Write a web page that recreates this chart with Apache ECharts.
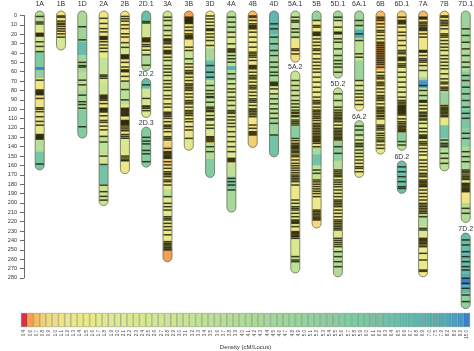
<!DOCTYPE html>
<html>
<head>
<meta charset="UTF-8">
<title>Wheat map marker density</title>
<script src="https://cdn.jsdelivr.net/npm/echarts@6/dist/echarts.min.js"></script>
</head>
<body style="margin:0;background:#fff">
<div id="map" style="width:474px;height:351px"></div>
<script>
var chromNames = ['1A','1B','1D','2A','2B','2D','3A','3B','3D','4A','4B','4D','5A','5B','5D','6A','6B','6D','7A','7B','7D'];

// [chromosome index, label, start cM, end cM]
var segments = [
  [0,'1A',0,160],[1,'1B',0,32],[2,'1D',0,126],[3,'2A',0,198],[4,'2B',0,164],
  [5,'2D.1',0,54],[5,'2D.2',72,104],[5,'2D.3',124,157],
  [6,'3A',0,258],[7,'3B',0,139],[8,'3D',0,168],[9,'4A',0,205],[10,'4B',0,136],[11,'4D',0,146],
  [12,'5A.1',0,45],[12,'5A.2',64,270],[13,'5B',0,222],[14,'5D.1',0,62],[14,'5D.2',82,274],
  [15,'6A.1',0,97],[15,'6A.2',117,168],[16,'6B',0,143],[17,'6D.1',0,139],[17,'6D.2',160,185],
  [18,'7A',0,274],[19,'7B',0,161],[20,'7D.1',0,216],[20,'7D.2',237,308]
];

// [segment, from cM, to cM, density cM/locus]
var bands = [
  ['1A',0,8,3.8],['1A',8,17,2.2],['1A',17,23,1.2],['1A',23,38,2.6],['1A',38,55,5.8],['1A',55,58,15],['1A',58,67,5.2],['1A',67,78,1.3],['1A',78,87,0.9],['1A',87,98,1.1],['1A',98,112,1.6],['1A',112,127,2.0],['1A',127,133,1.0],['1A',133,145,3.8],['1A',145,160,6.0],
  ['1B',0,20,1.0],['1B',20,32,2.4],
  ['1D',0,10,4.2],['1D',10,28,4.8],['1D',28,42,6.6],['1D',42,60,4.6],['1D',60,80,3.8],['1D',80,100,4.5],['1D',100,126,5.6],
  ['2A',0,20,1.4],['2A',20,30,1.0],['2A',30,45,1.6],['2A',45,62,3.2],['2A',62,70,2.4],['2A',70,84,3.0],['2A',84,105,1.2],['2A',105,128,1.6],['2A',128,148,3.4],['2A',148,160,2.8],['2A',160,180,6.2],['2A',180,198,3.0],
  ['2B',0,30,1.1],['2B',30,42,2.6],['2B',42,70,1.2],['2B',70,95,3.6],['2B',95,125,1.0],['2B',125,150,2.2],['2B',150,164,1.4],
  ['2D.1',0,6,6.5],['2D.1',6,22,2.8],['2D.1',22,30,1.0],['2D.1',30,40,1.8],['2D.1',40,54,4.2],
  ['2D.2',72,78,6.6],['2D.2',78,94,2.6],['2D.2',94,104,2.2],
  ['2D.3',124,157,5.6],
  ['3A',0,20,3.0],['3A',20,45,1.4],['3A',45,70,2.4],['3A',70,100,1.8],['3A',100,135,1.2],['3A',135,160,0.8],['3A',160,185,1.3],['3A',185,195,3.6],['3A',195,215,2.0],['3A',215,240,1.6],['3A',240,250,1.0],['3A',250,258,0.6],
  ['3B',0,6,0.6],['3B',6,30,1.0],['3B',30,37,1.4],['3B',37,52,3.2],['3B',52,80,1.2],['3B',80,100,1.5],['3B',100,125,1.3],['3B',125,139,1.9],
  ['3D',0,20,1.6],['3D',20,35,2.2],['3D',35,48,4.4],['3D',48,69,6.6],['3D',69,100,3.8],['3D',100,128,2.4],['3D',128,136,1.2],['3D',136,153,4.0],['3D',153,168,5.6],
  ['4A',0,20,3.8],['4A',20,35,2.4],['4A',35,40,1.4],['4A',40,54,3.6],['4A',54,58,7.5],['4A',58,70,4.2],['4A',70,100,2.6],['4A',100,150,2.2],['4A',150,158,1.4],['4A',158,172,3.4],['4A',172,185,6.0],['4A',185,205,4.4],
  ['4B',0,5,0.7],['4B',5,20,1.1],['4B',20,50,1.3],['4B',50,60,1.0],['4B',60,80,1.4],['4B',80,100,1.7],['4B',100,128,1.2],['4B',128,136,0.8],
  ['4D',0,20,6.8],['4D',20,40,5.8],['4D',40,70,4.6],['4D',70,85,2.6],['4D',85,110,3.8],['4D',110,128,4.8],['4D',128,146,6.2],
  ['5A.1',0,25,3.4],['5A.1',25,40,1.2],['5A.1',40,45,0.9],
  ['5A.2',64,100,3.0],['5A.2',100,118,2.2],['5A.2',118,130,5.4],['5A.2',130,175,1.0],['5A.2',175,195,1.4],['5A.2',195,228,1.8],['5A.2',228,237,1.0],['5A.2',237,255,2.2],['5A.2',255,270,3.4],
  ['5B',0,5,5.0],['5B',5,40,1.3],['5B',40,100,1.6],['5B',100,140,1.1],['5B',140,148,4.2],['5B',148,160,6.2],['5B',160,175,3.4],['5B',175,195,1.2],['5B',195,207,1.5],['5B',207,222,0.9],
  ['5D.1',0,4,4.6],['5D.1',4,22,2.4],['5D.1',22,40,3.4],['5D.1',40,62,3.9],
  ['5D.2',82,100,3.4],['5D.2',100,112,1.4],['5D.2',112,122,1.8],['5D.2',122,134,1.0],['5D.2',134,155,5.2],['5D.2',155,165,3.8],['5D.2',165,205,1.8],['5D.2',205,230,1.5],['5D.2',230,250,2.2],['5D.2',250,274,4.0],
  ['6A.1',0,15,4.6],['6A.1',15,24,7.5],['6A.1',24,40,3.6],['6A.1',40,48,3.0],['6A.1',48,70,4.8],['6A.1',70,85,2.6],['6A.1',85,97,1.6],
  ['6A.2',117,130,4.2],['6A.2',130,150,2.4],['6A.2',150,168,1.5],
  ['6B',0,10,0.7],['6B',10,30,1.0],['6B',30,58,0.6],['6B',58,85,1.2],['6B',85,110,1.1],['6B',110,125,1.4],['6B',125,135,2.4],['6B',135,143,1.4],
  ['6D.1',0,5,0.8],['6D.1',5,30,1.2],['6D.1',30,60,1.4],['6D.1',60,90,2.0],['6D.1',90,110,1.0],['6D.1',110,125,1.3],['6D.1',125,134,5.4],['6D.1',134,139,3.8],
  ['6D.2',160,185,6.4],
  ['7A',0,5,0.7],['7A',5,20,1.0],['7A',20,36,1.3],['7A',36,55,1.6],['7A',55,66,2.4],['7A',66,69,4.5],['7A',69,77,9.2],['7A',77,90,3.6],['7A',90,125,1.8],['7A',125,175,1.6],['7A',175,212,1.2],['7A',212,225,4.0],['7A',225,235,2.4],['7A',235,245,1.0],['7A',245,270,1.6],['7A',270,274,1.2],
  ['7B',0,5,0.9],['7B',5,30,1.2],['7B',30,70,2.0],['7B',70,82,1.5],['7B',82,95,5.0],['7B',95,110,1.1],['7B',110,117,1.8],['7B',117,131,6.2],['7B',131,145,4.4],['7B',145,161,3.6],
  ['7D.1',0,30,4.8],['7D.1',30,60,4.2],['7D.1',60,100,5.4],['7D.1',100,120,6.0],['7D.1',120,140,5.4],['7D.1',140,165,4.2],['7D.1',165,178,1.8],['7D.1',178,189,0.9],['7D.1',189,200,1.1],['7D.1',200,216,4.0],
  ['7D.2',237,275,6.6],['7D.2',275,280,7.8],['7D.2',280,288,15],['7D.2',288,296,6.8],['7D.2',296,308,5.2]
];

// locus positions (cM) on each segment
var loci = [
  ['1A',[1,7,9,19,20,21,22,28,33,38.5,69,79.5,80.5,81.5,82.5,83.5,84.5,88.5,98.5,100,102.6,108,113,117,127,128,129,130,131,132,158.5]],
  ['1B',[0.5,1.8,6,8.2,9.6,11.7,14.2,16.7,19.6,23.1]],
  ['1D',[12,26,50,53.5,55,69,74,85,92,95,99,118.7]],
  ['2A',[3,8.5,14,17.5,22.5,23.5,24.5,25.5,28,31.5,35,38.5,63.5,65,67,85,86,87,88,89,90.5,94,99,100,101,102,103,107,112,114,118,122,129,135,150,159,181,188,193,197]],
  ['2B',[1,3.5,6,10,14,19.5,23,29,34,42,43,44,45,46,50,55,58,59,60,65,70,79,90,99,100,101,102,103,104,105,106,107,112,113,114,115,116,117,119,121,123,127,129,131,150,152,154,155]],
  ['2D.1',[6.5,8,24,25,26,27,28,31,33,37,42,53]],
  ['2D.2',[74,88.5,96.5,97.5,99,101.5]],
  ['2D.3',[130,134,137,144,147.6,156]],
  ['3A',[1.8,5.3,10.7,16,21.3,25,26,27,28.5,30.2,33.8,37.3,38.5,39.7,40.9,44.5,48,53.4,56.9,60.5,64,69.4,72.9,76.5,80,85.4,88.9,94.3,97.8,103.2,104.5,106,107.5,109.7,113.3,117,118.5,120.4,124,129.3,131,132.9,141.8,145.3,146.5,147.7,149,150.2,151.4,152.4,156,159.5,163.1,166.7,168.5,170,172,175.5,177.3,180.9,193.3,200.4,204,207.6,214.7,216.5,218.2,221.8,225.3,229,234,241.3,243,244.5,246,247.5,249,250.2]],
  ['3B',[1.8,2.8,3.8,4.8,5.5,6.5,7.5,8.5,12.4,16,19.6,21.3,22.5,23.7,24.9,33.8,37.3,46.2,51.6,55.1,58.7,60.5,62.2,65.8,69.4,72.9,74.5,76.5,78.3,80,83.6,87.1,90.7,92.5,94.3,97.8,101.4,103,104.8,106.7,110.3,113.3,118.6,122.2,131.1]],
  ['3D',[0.5,3.6,7.1,10.7,14.2,15.5,16,19.6,23.1,26.7,32,53.4,60.5,65.8,74.7,80,83.6,86.5,87.5,92.5,97.8,99.5,101.4,102.6,106.7,110.3,111.5,116.9,120.4,129.3,130.5,131.8,133,134.6,140,145.3]],
  ['4A',[1.8,7.1,12.4,17.8,23.1,30.2,35.6,36.8,38,39.1,42.7,46.2,49.8,62.2,67.6,72.9,78.3,81.8,87.1,90.7,96,101.4,103,104.4,108,111.5,115.1,118.6,124,129.3,134.6,140,145.3,152.4,153.6,154.8,156,173.8,177.3,180.9,186.2]],
  ['4B',[0.5,1.8,5.3,8.9,10.7,11.8,13,14.2,17.8,23.1,28.5,33.8,39.1,40.9,42.7,44.5,48,53.4,54.5,55.7,56.9,60.5,64,65.8,67.6,71.1,74.7,76.5,78.3,81.8,85.4,88.9,90.7,92.5,96,99.6,100.9,102.5,104.2,106,108,116.9,120.4,124,125.2,126.4,127.5]],
  ['4D',[8.9,14.2,23.1,30.2,37.3,42.7,49.8,55.1,60.5,64,71.1,72.3,73.5,74.7,78.3,83.6,88.9,94.3,99.6,104.4,109.7,115.1,127.5]],
  ['5A.1',[1.8,5.3,7.1,14.2,17.8,23.1,35.6,37.3,41]],
  ['5A.2',[69.4,74.7,80,85.4,90.7,94.3,97.8,101,103.2,104.4,106.7,108,111.5,113.3,115,116.9,131.1,133.5,136.4,138.2,139.4,140.6,141.8,143.5,145,146.5,148.9,150.6,154.2,157.8,160.3,162.8,165.3,167.8,170.3,172,173.8,175.5,177.3,180.9,196.9,200.4,204,205.8,207.6,211.1,214.7,218.2,219.4,220.6,221.8,225.3,230.6,231.8,233,234.2,235.4,236,237.8,257.3,260.9,262.7]],
  ['5B',[5.3,10.7,12.4,17.8,19,20.2,21.3,24.9,28.5,32,35.6,37.3,40.9,46.2,49.8,53.4,56.9,60.5,65.8,71.1,76.5,81.8,87.1,90.7,92.5,94.3,97.8,100.9,102.5,104.2,106,108,109.7,112,115.1,116.9,118.6,120.4,122.2,124,125.8,127.5,129.3,130.6,131.9,133.2,134.6,136.4,140,164.9,168.4,175.5,177.5,180,182.5,185,187.5,190,193.3,207.6,209.2,210.8,212.4,214,215.6,217,218.2]],
  ['5D.1',[1.8,5.3,12.4,17.8,18.7,19.6,24.9,28.5,35.6,42.7,48,51.6,55.1,60.5]],
  ['5D.2',[83.6,90.7,97.8,100.9,103.2,105,106.7,108.5,110,111.5,113.3,117,120.4,122.2,123.8,125.4,127,128.6,130.2,131.6,132.9,140,147.1,164.9,166.8,168.6,170.4,172,175.5,177.8,180.2,182.7,186.2,189.8,193.3,196.9,198.6,200.4,202.2,204,207.6,211.1,214.7,218.2,220,221.8,223.6,225.4,227.2,228.9,237.8,240,242.2,244.4,246.7,252,257.3,262.7,268]],
  ['6A.1',[5.3,10.7,19.6,26.7,40.9,44.5,69.4,74.7,80,83.6,87.1,90.7,95]],
  ['6A.2',[118,122.2,127.5,132.9,136.4,138.2,140,143.5,147.1,150.6,154.2,157.8,161.3,163.1,166.7]],
  ['6B',[1.8,3.6,5.3,8.9,12.4,16,17.8,21.3,24.9,28.5,30.2,32.2,34.2,36.2,38.2,40.2,42.2,44.2,46.2,48.2,50.2,52.2,55.1,60.5,64,65.8,67.6,71.1,72.9,74.7,78.3,81.8,85.4,87.1,88.9,90.7,94.3,97.8,99.6,101.4,102.8,104.5,106.7,108,110.3,116.9,118.6,120.4,122.2,125.7,128,130.5,132.9,134.6,138.2,141.8]],
  ['6D.1',[1.8,5.3,6.5,7.7,8.9,12.4,17.8,21.3,26.7,32,37.3,39.1,40.9,44.5,45.7,46.9,48,51.6,53.4,55.1,60.5,65.8,71.1,76.5,81.8,87.1,90.7,92.5,94.3,96,97.1,98.2,99.3,100.4,101.4,102.6,103.8,104.9,106.2,110.3,113.3,115.1,116.9,118.6,120,121.4,122.8,124,134.6,138.2]],
  ['6D.2',[161.5,166.7,172,177.3,182.7,184.5]],
  ['7A',[1.8,2.7,3.6,7.1,8.9,10.7,12.4,13.6,14.8,16,19.6,23.1,37.3,38.2,39.1,42.7,46.2,48,49.8,53.4,58.7,74.7,80,85.4,90.7,91.6,92.5,96,99.6,103.2,104.9,106.7,108,110.3,111.5,115.1,120.4,124,127.5,128.7,129.9,131.1,134.6,136.4,138.2,141.8,145.3,148.9,154.2,157.8,161.3,164.9,168.4,170.2,172,175.5,177,178.5,180,181.5,182.7,186.2,189.8,193.3,196.9,200.4,202.2,204,205.8,207.6,209.4,211.1,214.7,227.1,228.9,237.8,239.1,240.4,241.8,243.1,244.9,246.7,253.8,260.9,271.6,273]],
  ['7B',[0.5,1.8,5.3,7.1,8.9,10.7,14.2,19.6,21.3,23.1,26.7,30.2,33.8,37.3,42.7,46.2,49.8,53.4,56.9,62.2,67.6,71.1,72.9,76.5,78.2,80,96,97.8,99.2,100.6,102,103.4,104.9,106.5,108,132.9,136.4,138.2,140,147.1,152.4,157.8]],
  ['7D.1',[14.2,21.3,28.5,35.6,42.7,49.8,55.1,64,69.4,76.5,83.6,90.7,97.8,104.4,109.7,125.7,131.1,145.3,150.6,156,164.9,166.5,168,170.2,172,173.5,175,179.1,180.4,181.7,183,184.3,185.6,186.8,188,205.8,211.1]],
  ['7D.2',[239.5,244.9,252,257.3,262.7,268,271.6,280.4,285.8,291.1,298.2,305.3]]
];

var densityLabels = ['0.4','0.6','0.7','0.8','0.9',
  '1.0','1.1','1.2','1.3','1.4','1.5','1.6','1.7','1.8','1.9','2.0','2.1','2.2','2.3','2.4','2.5','2.6','2.7','2.8','2.9',
  '3.0','3.1','3.2','3.3','3.4','3.5','3.6','3.7','3.8','3.9','4.0','4.1','4.2','4.3','4.4','4.5','4.6','4.7','4.8','4.9',
  '5.0','5.1','5.2','5.3','5.4','5.5','5.6','5.7','5.8','5.9','6.0','6.1','6.2','6.3','6.4','6.5','6.6','6.7','6.8','6.9',
  '7.0','7.5','7.9','8.2','8.9','9.2','15.0'];

// colour ramp along the legend (position 0..1)
var rampStops = [
  [0, '#d6304a'], [0.014, '#f4a050'], [0.03, '#f5c068'], [0.05, '#f3d77a'], [0.08, '#f2e384'],
  [0.15, '#ebe98e'], [0.3, '#d3e694'], [0.45, '#bade98'], [0.6, '#9dd49c'], [0.75, '#7ec9a4'],
  [0.87, '#63bbae'], [0.96, '#4ea6bc'], [0.986, '#4898c6'], [1, '#3a82d0']
];

var W = 9, CAP = 4.5;
var FONT = '"Liberation Sans", Arial, sans-serif';

function hexRgb(h) {
  return [parseInt(h.substr(1, 2), 16), parseInt(h.substr(3, 2), 16), parseInt(h.substr(5, 2), 16)];
}
function rampColor(t) {
  for (var i = 1; i < rampStops.length; i++) {
    if (t <= rampStops[i][0]) {
      var a = rampStops[i - 1], b = rampStops[i];
      var f = (t - a[0]) / (b[0] - a[0]);
      var ca = hexRgb(a[1]), cb = hexRgb(b[1]);
      return 'rgb(' + ca.map(function (v, k) { return Math.round(v + (cb[k] - v) * f); }).join(',') + ')';
    }
  }
  return rampStops[rampStops.length - 1][1];
}
var densityValues = densityLabels.map(Number);
function densityColor(d) {
  var best = 0;
  for (var i = 1; i < densityValues.length; i++) {
    if (Math.abs(densityValues[i] - d) < Math.abs(densityValues[best] - d)) best = i;
  }
  return rampColor(best / (densityValues.length - 1));
}

var segByLabel = {};
segments.forEach(function (s) { segByLabel[s[1]] = s; });

var bandData = bands.map(function (b) {
  var s = segByLabel[b[0]];
  return [s[0], b[1], b[2], b[3], b[1] === s[2] ? 1 : 0, b[2] === s[3] ? 1 : 0];
});
var lociData = [];
loci.forEach(function (row) {
  var s = segByLabel[row[0]];
  row[1].forEach(function (p) { lociData.push([s[0], p]); });
});

var myChart = echarts.init(document.getElementById('map'));

myChart.setOption({
  animation: false,
  backgroundColor: '#fff',
  grid: [
    {left: 24, top: 15.5, width: 450, height: 262.4, outerBoundsMode: 'none', containLabel: false},
    {left: 21, top: 313, width: 449, height: 14, outerBoundsMode: 'none', containLabel: false}
  ],
  xAxis: [
    {type: 'value', min: -0.737, max: 20.39, show: false},
    {
      type: 'category', gridIndex: 1, data: densityLabels,
      axisLine: {show: false}, axisTick: {show: false},
      axisLabel: {interval: 0, rotate: 90, fontSize: 4.5, margin: 3, color: '#444', fontFamily: FONT},
      name: 'Density (cM/Locus)', nameLocation: 'middle', nameGap: 17,
      nameTextStyle: {fontSize: 6, color: '#333', fontFamily: FONT}
    }
  ],
  yAxis: [
    {
      type: 'value', inverse: true, min: 0, max: 280, interval: 10,
      axisLine: {show: true, onZero: false, lineStyle: {color: '#444', width: 0.8}},
      axisTick: {show: true, length: 4, lineStyle: {color: '#444', width: 0.8}},
      axisLabel: {fontSize: 5.5, color: '#333', margin: 7, fontFamily: FONT},
      splitLine: {show: false},
      name: 'cM', nameLocation: 'middle', nameGap: 19, nameRotate: 90,
      nameTextStyle: {fontSize: 6.5, color: '#333', fontFamily: FONT}
    },
    {type: 'value', gridIndex: 1, min: 0, max: 1, show: false}
  ],
  series: [
    {
      type: 'custom', clip: false, silent: true, z: 2,
      data: bandData,
      renderItem: function (params, api) {
        var x = api.value(0);
        var p1 = api.coord([x, api.value(1)]);
        var p2 = api.coord([x, api.value(2)]);
        var top = p1[1], bot = p2[1] + 0.4;
        var r = [0, 0, 0, 0];
        if (api.value(4)) { top -= CAP; r[0] = CAP; r[1] = CAP; }
        if (api.value(5)) { bot += CAP - 0.4; r[2] = CAP; r[3] = CAP; }
        return {
          type: 'rect',
          shape: {x: p1[0] - W / 2, y: top, width: W, height: bot - top, r: r},
          style: {fill: densityColor(api.value(3))}
        };
      }
    },
    {
      type: 'custom', clip: false, silent: true, z: 3,
      data: lociData,
      renderItem: function (params, api) {
        var p = api.coord([api.value(0), api.value(1)]);
        return {
          type: 'line',
          shape: {x1: p[0] - W / 2 + 0.3, y1: p[1], x2: p[0] + W / 2 - 0.3, y2: p[1]},
          style: {stroke: 'rgba(30,30,6,0.85)', lineWidth: 1.5}
        };
      }
    },
    {
      type: 'custom', clip: false, silent: true, z: 4,
      data: segments.map(function (s) { return [s[0], s[2], s[3], s[1]]; }),
      renderItem: function (params, api) {
        var x = api.value(0);
        var p1 = api.coord([x, api.value(1)]);
        var p2 = api.coord([x, api.value(2)]);
        var top = p1[1] - CAP, bot = p2[1] + CAP;
        var label = segments[params.dataIndex][1];
        var ly = api.value(1) === 0 ? 4 : top - 4;
        return {
          type: 'group',
          children: [
            {
              type: 'rect',
              shape: {x: p1[0] - W / 2, y: top, width: W, height: bot - top, r: CAP},
              style: {fill: 'none', stroke: 'rgba(95,105,75,0.95)', lineWidth: 0.8}
            },
            {
              type: 'text',
              style: {
                text: label, x: p1[0], y: ly, fill: '#333',
                fontSize: 7, fontFamily: FONT, align: 'center', verticalAlign: 'middle'
              }
            }
          ]
        };
      }
    },
    {
      type: 'bar', xAxisIndex: 1, yAxisIndex: 1, silent: true,
      barCategoryGap: '0%',
      itemStyle: {borderColor: 'rgba(80,100,70,0.65)', borderWidth: 0.5},
      data: densityLabels.map(function (l, i) {
        return {value: 1, itemStyle: {color: rampColor(i / (densityLabels.length - 1))}};
      })
    }
  ]
});
</script>
</body>
</html>
